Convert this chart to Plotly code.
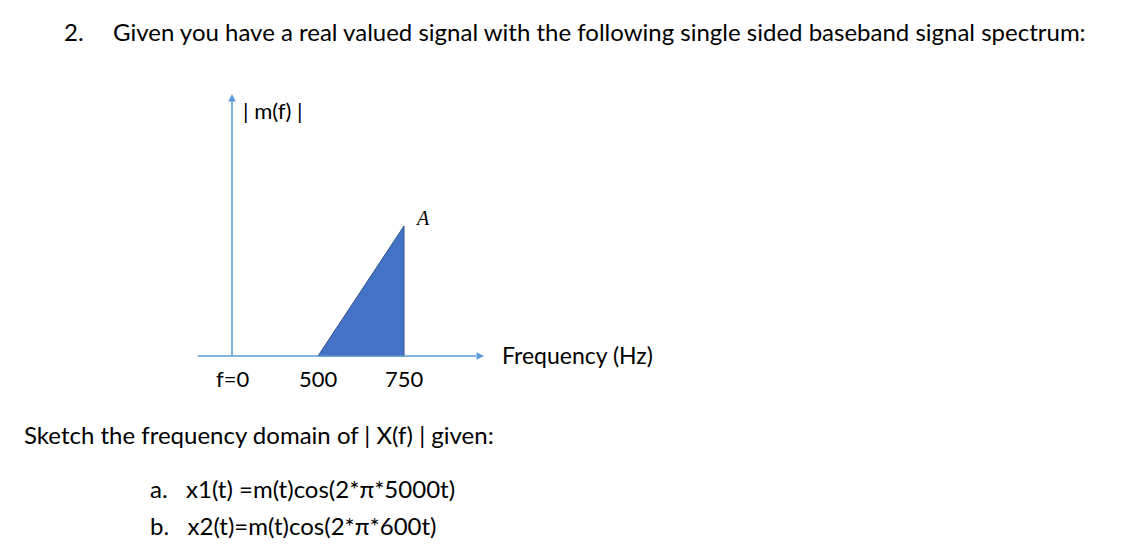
import plotly.graph_objects as go

# spectrum sketch (x in sketch units, y: 0 = baseline, 1 = peak A)
tri_x = [318, 404, 404, 318]
tri_y = [0, 1, 0, 0]
tick_pos = [232, 318, 404]
tick_labels = ["f=0", "500", "750"]

BLUE = "#4472C4"
FONT = "Lato, Open Sans, sans-serif"

def py(v):
    # amplitude -> page pixel row
    return 358 - v * 130

fig = go.Figure()
fig.add_trace(go.Scatter(x=tri_x, y=[py(v) for v in tri_y], fill="toself",
                         fillcolor=BLUE, mode="lines",
                         line=dict(color="#2F528F", width=1), hoverinfo="skip"))

shapes = [
    dict(type="line", x0=232, x1=232, y0=358, y1=100, line=dict(color="#5B9BD5", width=1.5)),
    dict(type="line", x0=198, x1=476, y0=358, y1=358, line=dict(color="#5B9BD5", width=1.5)),
]
ann = [
    dict(x=232, y=96, ax=232, ay=104, axref="x", ayref="y", showarrow=True, text="",
         arrowhead=2, arrowsize=1, arrowwidth=1.5, arrowcolor="#5B9BD5"),
    dict(x=484, y=358, ax=476, ay=358, axref="x", ayref="y", showarrow=True, text="",
         arrowhead=2, arrowsize=1, arrowwidth=1.5, arrowcolor="#5B9BD5"),
]

def txt(x, y, s, size=24, anchor="left", family=FONT):
    ann.append(dict(x=x, y=y, text=s, showarrow=False, xanchor=anchor, yanchor="middle",
                    font=dict(family=family, size=size, color="black")))

txt(62, 33, "2.")
txt(111, 33, "Given you have a real valued signal with the following single sided baseband signal spectrum:")
txt(241, 112, "| m(f) |", size=22)
txt(422, 220, "<i>A</i>", size=20, anchor="center", family="Liberation Serif, serif")
txt(500, 357, "Frequency (Hz)", size=23)
for p, l in zip(tick_pos, tick_labels):
    txt(p, 380, l, size=22, anchor="center")
txt(22, 436, "Sketch the frequency domain of | X(f) | given:")
txt(148, 490, "a.   x1(t) =m(t)cos(2*π*5000t)")
txt(148, 527, "b.   x2(t)=m(t)cos(2*π*600t)")

fig.update_layout(width=1126, height=554, margin=dict(l=0, r=0, t=0, b=0),
                  paper_bgcolor="white", plot_bgcolor="white", showlegend=False,
                  shapes=shapes, annotations=ann,
                  xaxis=dict(range=[8, 1134], visible=False),
                  yaxis=dict(range=[564, 10], visible=False))
fig.write_html("out.html", config={"displayModeBar": False})
